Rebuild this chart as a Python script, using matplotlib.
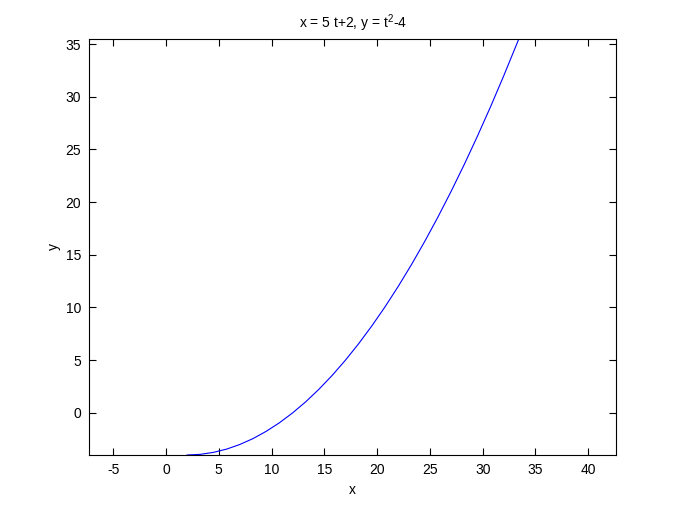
import matplotlib
matplotlib.use("Agg")
import matplotlib.pyplot as plt

# points
x_vals = [2.0, 3.25, 4.5, 5.75, 7.0, 8.25, 9.5, 10.75, 12.0, 13.25, 14.5, 15.75, 17.0,
          18.25, 19.5, 20.75, 22.0, 23.25, 24.5, 25.75, 27.0, 28.25, 29.5, 30.75, 32.0,
          33.25, 33.42]
y_vals = [-4.0, -3.94, -3.75, -3.44, -3.0, -2.44, -1.75, -0.94, 0.0, 1.06, 2.25, 3.56, 5.0,
          6.56, 8.25, 10.06, 12.0, 14.06, 16.25, 18.56, 21.0, 23.56, 26.25, 29.06, 32.0,
          35.06, 35.48]
x_ticks = [-5, 0, 5, 10, 15, 20, 25, 30, 35, 40]
y_ticks = [0, 5, 10, 15, 20, 25, 30, 35]

plt.rcParams["font.family"] = ["Liberation Sans", "DejaVu Sans"]
plt.rcParams["mathtext.default"] = "regular"
plt.rcParams["axes.unicode_minus"] = False
plt.rcParams["font.size"] = 10

fig = plt.figure(figsize=(6.82, 5.11), dpi=100)
ax = fig.add_axes([0.131, 0.1096, 0.7727, 0.8141])
ax.plot(x_vals, y_vals, color="#0000ff", linewidth=0.8)

ax.set_xlim(-7.26, 42.66)
ax.set_ylim(-4.0, 35.48)
ax.set_xticks(x_ticks)
ax.set_yticks(y_ticks)
ax.tick_params(direction="in", top=True, right=True, length=5, width=0.8,
               labelsize=10, pad=6)
for s in ax.spines.values():
    s.set_linewidth(0.8)

ax.set_title("x = 5 t+2, y = t$^{2}$-4", fontsize=10, pad=8)
ax.set_xlabel("x", fontsize=10, labelpad=4)
ax.set_ylabel("y", fontsize=10, labelpad=3)

fig.savefig("out.png", dpi=100)
